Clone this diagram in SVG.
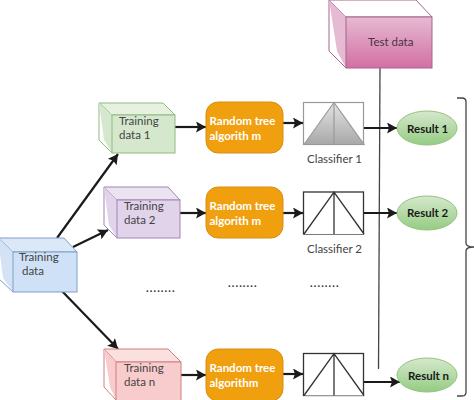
<svg xmlns="http://www.w3.org/2000/svg" width="474" height="400" viewBox="0 0 474 400">
<style>
text{font-family:"Lato","Liberation Sans",sans-serif;font-size:11.5px;fill:#444}
.b{font-weight:700}
.w{fill:#fff}
.r{fill:#f09f0f;stroke:#d98e10;stroke-width:1}
.e{fill:url(#gg);stroke:#93c47d;stroke-width:1}
.k{fill:#1a1a1a;font-size:11.5px}
.c{fill:#fff;stroke:#333;stroke-width:1.3}
.a{fill:none;stroke:#1a1a1a;stroke-width:2.2;marker-end:url(#ah)}
.l{fill:none;stroke:#444;stroke-width:1.3}
.d{fill:#333;font-size:11px;font-weight:700;letter-spacing:1.1px}
</style>
<defs>
<marker id="ah" markerUnits="userSpaceOnUse" markerWidth="11" markerHeight="11" refX="10" refY="5.500" orient="auto"><path d="M0 0L10 5.500L0 11L2 5.500Z" fill="#1a1a1a"/></marker>
<linearGradient id="gg" x1="0" y1="0" x2="0" y2="1"><stop offset="0" stop-color="#d6e8cd"/><stop offset="1" stop-color="#95cc83"/></linearGradient>
<linearGradient id="gp" x1="0" y1="0" x2="0" y2="1"><stop offset="0" stop-color="#e6bad2"/><stop offset="1" stop-color="#d36fa3"/></linearGradient>
<linearGradient id="gc" x1="0" y1="0" x2="0" y2="1"><stop offset="0" stop-color="#e4e4e4"/><stop offset="1" stop-color="#a8a8a8"/></linearGradient>
</defs>

<g id="connectors">
<path class="l" d="M380 68L378.500 369"/>
<path class="a" d="M57 238L118 154"/>
<path class="a" d="M73 247L108 230"/>
<path class="a" d="M60 289L118 349"/>
<path class="a" d="M175 127L206 127"/>
<path class="a" d="M180 213L206 213"/>
<path class="a" d="M181 375L206 375"/>
<path class="a" d="M283 123L303 123"/>
<path class="a" d="M283 213L303 213"/>
<path class="a" d="M283 374L303 374"/>
<path class="a" d="M364 128L397 128"/>
<path class="a" d="M364 213L397 213"/>
<path class="a" d="M364 382L400 382"/>
</g>

<g id="training-data">
<path d="M-2 238L64 238L77 252L13 252Z" fill="#dbe8f7" stroke="#7f9fc6"/>
<path d="M-2 238L13 252L13 292L-2 278Z" fill="#fff" stroke="#7f9fc6"/>
<path d="M-2 238L13 252L13 292L3 278Z" fill="#d3e2f5"/>
<rect x="13" y="252" width="64" height="40" fill="#cfe1f7" stroke="#7f9fc6"/>
<text x="19" y="261">Training</text><text x="22" y="275">data</text>
</g>

<g id="training-data-1">
<path d="M99 103L163 103L175 115L112 115Z" fill="#e6f1e0" stroke="#8dbb7e"/>
<path d="M99 103L112 115L112 153L99 140Z" fill="#fff" stroke="#8dbb7e"/>
<path d="M99 103L112 115L112 153L104 140Z" fill="#d5e8cd"/>
<rect x="112" y="115" width="63" height="38" fill="#d5e8cd" stroke="#8dbb7e"/>
<text x="119" y="125">Training</text><text x="119" y="139">data 1</text>
</g>

<g id="training-data-2">
<path d="M104 187L168 187L180 200L117 200Z" fill="#ece3f1" stroke="#9f86b3"/>
<path d="M104 187L117 200L117 238L104 225Z" fill="#fff" stroke="#9f86b3"/>
<path d="M104 187L117 200L117 238L109 225Z" fill="#e1d3ea"/>
<rect x="117" y="200" width="63" height="38" fill="#e1d3ea" stroke="#9f86b3"/>
<text x="124" y="210">Training</text><text x="124" y="224">data 2</text>
</g>

<g id="training-data-n">
<path d="M104 349L168 349L181 362L116 362Z" fill="#fbe0e0" stroke="#cf7f80"/>
<path d="M104 349L116 362L116 400L104 387Z" fill="#fff" stroke="#cf7f80"/>
<path d="M104 349L116 362L116 400L110 387Z" fill="#f8cccc"/>
<rect x="116" y="362" width="65" height="40" fill="#f8cccc" stroke="#cf7f80"/>
<text x="124" y="372">Training</text><text x="124" y="386">data n</text>
</g>

<g id="test-data">
<path d="M329 0L416 0L432 17L346 17Z" fill="#fff" stroke="#a5658a"/>
<path d="M329 0L346 17L346 68L329 51Z" fill="#fff" stroke="#a5658a"/>
<path d="M329 0L346 17L346 68L337 51Z" fill="#e6bad2"/>
<rect x="346" y="17" width="86" height="51" fill="url(#gp)" stroke="#a5658a"/>
<text x="368" y="46" style="fill:#4a3344">Test data</text>
</g>

<g id="random-tree-1">
<rect class="r" x="206" y="102" width="77" height="51" rx="12"/>
<text class="b w" x="209.500" y="125">Random tree</text><text class="b w" x="209.500" y="140">algorith m</text>
</g>
<g id="random-tree-2">
<rect class="r" x="206" y="187" width="77" height="51" rx="12"/>
<text class="b w" x="209.500" y="210">Random tree</text><text class="b w" x="209.500" y="225">algorith m</text>
</g>
<g id="random-tree-n">
<rect class="r" x="206" y="349" width="77" height="52" rx="12"/>
<text class="b w" x="209.500" y="372">Random tree</text><text class="b w" x="209.500" y="387">algorithm</text>
</g>

<g id="classifier-1">
<rect x="303.500" y="102.500" width="60" height="42" fill="#fff" stroke="#999" stroke-width="1.200"/>
<path d="M304 144.500L334 102.500L364 144.500Z" fill="url(#gc)" stroke="#999" stroke-width="1.200"/>
<path d="M334 102.500L334 144.500" stroke="#999" stroke-width="1.200"/>
<text x="307" y="163">Classifier 1</text>
</g>
<g id="classifier-2">
<rect class="c" x="303.500" y="192" width="60" height="42"/>
<path class="c" d="M304 234L334 192L364 234M334 192L334 234"/>
<text x="307" y="253">Classifier 2</text>
</g>
<g id="classifier-n">
<rect class="c" x="303.500" y="353.500" width="60" height="42"/>
<path class="c" d="M304 395.500L334 353.500L364 395.500M334 353.500L334 395.500"/>
</g>

<g id="result-1"><ellipse class="e" cx="427" cy="128" rx="30" ry="17"/><text class="b k" x="407" y="133">Result 1</text></g>
<g id="result-2"><ellipse class="e" cx="427" cy="213" rx="30" ry="17"/><text class="b k" x="407" y="217">Result 2</text></g>
<g id="result-n"><ellipse class="e" cx="427" cy="375" rx="30" ry="17"/><text class="b k" x="408" y="380">Result n</text></g>

<g id="brace"><path class="l" d="M457 98L462 98Q466 98 466 102L466 243Q466 247 474 247Q466 247 466 251L466 392Q466 396 462 396L457 396"/></g>

<g id="ellipses">
<text class="d" x="146" y="292">........</text>
<text class="d" x="228" y="287">........</text>
<text class="d" x="310" y="287">........</text>
</g>
</svg>
